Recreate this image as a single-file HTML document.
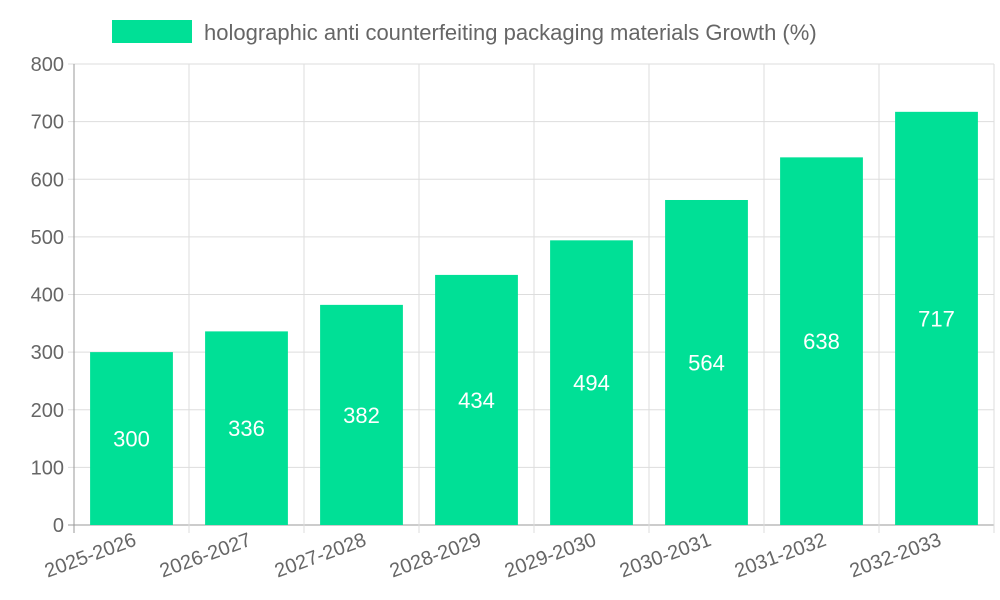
<!DOCTYPE html>
<html><head><meta charset="utf-8"><style>
html,body{margin:0;padding:0;background:#fff;}
svg{display:block;font-family:"Liberation Sans",sans-serif;}
</style></head><body>
<svg id="chart" width="1000" height="600">
<g>
<rect x="112" y="20" width="80" height="23" fill="#00e096"></rect>
<text x="204" y="40" font-size="22" fill="#666">holographic anti counterfeiting packaging materials Growth (%)</text>
</g>
<g id="grid"></g><g id="bars"></g><g id="axes"></g>
</svg>
<script>
const categories=["2025-2026","2026-2027","2027-2028","2028-2029","2029-2030","2030-2031","2031-2032","2032-2033"];
const values=[300,336,382,434,494,564,638,717];
const yTicks=[0,100,200,300,400,500,600,700,800];
const NS="http://www.w3.org/2000/svg";
const L=74,R=994,T=64,B=525,yMax=800;
const bw=(R-L)/categories.length;
const y=v=>B-(v/yMax)*(B-T);
const x=i=>L+bw*i;
function mk(t,a,p){const e=document.createElementNS(NS,t);for(const k in a)e.setAttribute(k,a[k]);p.appendChild(e);return e;}
const grid=document.getElementById('grid'),bars=document.getElementById('bars'),axes=document.getElementById('axes');
yTicks.forEach(v=>{
 const l=mk('line',{x1:L-6,x2:R,y1:y(v),y2:y(v),stroke:v===0?'#999':'#ddd','stroke-width':1},grid);
 
 
 const t=mk('text',{x:L-10,y:y(v)+7,'text-anchor':'end','font-size':20,fill:'#666'},axes);
 t.textContent=v;
 
 
});
for(let i=0;i<=categories.length;i++){
 const l=mk('line',{x1:x(i),x2:x(i),y1:T,y2:B+8,stroke:i===0?'#999':'#ddd','stroke-width':1},grid);
 
 
}
categories.forEach((c,i)=>{
 const cx=x(i)+bw/2,w=bw*0.72;
 const r=mk('rect',{x:cx-w/2,y:y(values[i]),width:w,height:B-y(values[i]),fill:'#00e096'},bars);
 
 
 const vt=mk('text',{x:cx,y:(y(values[i])+B)/2+8,'text-anchor':'middle','font-size':22,fill:'#fff'},bars);
 vt.textContent=values[i];
 
 
 const tx=cx+6,ty=B+20;
 const t=mk('text',{x:tx,y:ty,'text-anchor':'end','font-size':20,fill:'#666',transform:`rotate(-20 ${tx} ${ty})`},axes);
 t.textContent=c;
 
 
});
</script>
</body></html>
